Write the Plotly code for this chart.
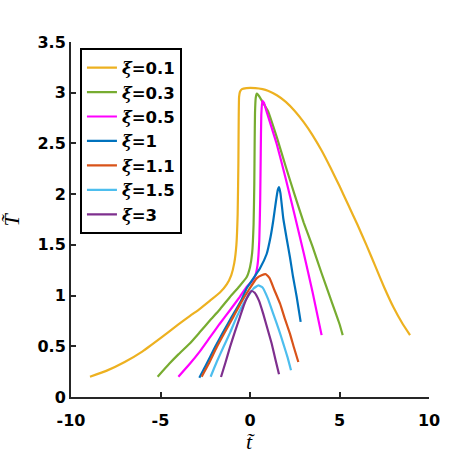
import plotly.graph_objects as go

# ---- data ----
xi_labels = ["0.1", "0.3", "0.5", "1", "1.1", "1.5", "3"]
colors = ["#EDB120", "#77AC30", "#FF00FF", "#0072BD", "#D95319", "#4DBEEE", "#7E2F8E"]

t_01 = [-8.94, -8.0, -7.0, -6.0, -5.0, -4.0, -3.35, -2.8, -2.23, -1.68, -1.3, -1.05, -0.88, -0.76,
        -0.69, -0.65, -0.63, -0.61, -0.56, -0.45, -0.2, 0.3, 0.7, 1.0, 1.5, 2.0, 2.5, 3.0,
        3.5, 4.0, 4.5, 5.0, 5.5, 6.0, 6.5, 7.0, 7.5, 8.0, 8.5, 8.94]
T_01 = [0.20, 0.26, 0.345, 0.45, 0.58, 0.715, 0.80, 0.87, 0.95, 1.03, 1.11, 1.20, 1.32, 1.50,
        1.80, 2.30, 2.75, 2.96, 3.01, 3.035, 3.045, 3.045, 3.035, 3.02, 2.975, 2.91, 2.82, 2.71,
        2.58, 2.43, 2.26, 2.08, 1.89, 1.70, 1.50, 1.29, 1.08, 0.89, 0.73, 0.61]

t_03 = [-5.16, -4.5, -4.0, -3.35, -2.8, -2.23, -1.7, -1.12, -0.6, -0.19, 0.0, 0.12, 0.2, 0.24,
        0.26, 0.28, 0.32, 0.37, 0.45, 0.6, 0.8, 1.0, 1.5, 2.0, 2.5, 3.0, 3.5, 4.0, 4.5, 5.0, 5.18]
T_03 = [0.20, 0.33, 0.42, 0.53, 0.64, 0.756, 0.86, 0.986, 1.09, 1.18, 1.28, 1.42, 1.70, 2.10,
        2.50, 2.80, 2.95, 2.99, 2.98, 2.94, 2.88, 2.82, 2.56, 2.27, 1.99, 1.72, 1.48, 1.22, 0.97, 0.72, 0.61]

t_05 = [-4.0, -3.35, -2.8, -2.23, -1.7, -1.12, -0.56, -0.19, 0.1, 0.28, 0.42, 0.52, 0.57, 0.6,
        0.63, 0.69, 0.78, 0.9, 1.2, 1.5, 2.0, 2.5, 3.0, 3.5, 4.0]
T_05 = [0.20, 0.33, 0.45, 0.59, 0.72, 0.855, 0.99, 1.085, 1.14, 1.19, 1.30, 1.55, 1.95, 2.40,
        2.78, 2.92, 2.90, 2.83, 2.66, 2.49, 2.15, 1.79, 1.42, 1.03, 0.61]

t_1 = [-2.83, -2.5, -1.96, -1.5, -1.02, -0.5, -0.19, 0.0, 0.3, 0.56, 0.93, 1.15, 1.30, 1.45,
       1.55, 1.62, 1.70, 1.86, 2.05, 2.23, 2.4, 2.61, 2.83]
T_1 = [0.19, 0.30, 0.49, 0.64, 0.79, 0.95, 1.07, 1.12, 1.20, 1.27, 1.41, 1.58, 1.74, 1.93,
       2.04, 2.07, 2.01, 1.76, 1.56, 1.38, 1.19, 0.986, 0.74]

t_11 = [-2.70, -2.3, -1.86, -1.4, -0.93, -0.5, -0.09, 0.37, 0.65, 0.89, 1.1, 1.35, 1.68, 1.95,
        2.23, 2.45, 2.70]
T_11 = [0.20, 0.33, 0.49, 0.64, 0.79, 0.93, 1.05, 1.17, 1.20, 1.21, 1.17, 1.06, 0.92, 0.77,
        0.625, 0.49, 0.345]

t_15 = [-2.20, -1.85, -1.49, -1.1, -0.74, -0.4, -0.09, 0.2, 0.47, 0.7, 1.0, 1.30, 1.6, 1.86,
        2.1, 2.29]
T_15 = [0.20, 0.35, 0.49, 0.64, 0.79, 0.91, 1.00, 1.07, 1.10, 1.08, 0.97, 0.82, 0.67, 0.527,
        0.39, 0.263]

t_3 = [-1.62, -1.37, -1.12, -0.85, -0.56, -0.35, -0.19, 0.0, 0.09, 0.25, 0.5, 0.74, 0.98, 1.21,
       1.42, 1.62]
T_3 = [0.197, 0.34, 0.49, 0.64, 0.79, 0.90, 0.97, 1.03, 1.045, 1.03, 0.95, 0.82, 0.67, 0.527,
       0.37, 0.224]

series_t = [t_01, t_03, t_05, t_1, t_11, t_15, t_3]
series_T = [T_01, T_03, T_05, T_1, T_11, T_15, T_3]

x_tick_vals = [-10, -5, 0, 5, 10]
x_tick_text = ["-10", "-5", "0", "5", "10"]
y_tick_vals = [0, 0.5, 1, 1.5, 2, 2.5, 3, 3.5]
y_tick_text = ["0", "0.5", "1", "1.5", "2", "2.5", "3", "3.5"]

AX = "#262626"
SANS = "DejaVu Sans"
SERIF = "DejaVu Serif"

fig = go.Figure()
for lab, col, tt, TT in zip(xi_labels, colors, series_t, series_T):
    fig.add_trace(go.Scatter(
        x=tt, y=TT, mode="lines",
        line=dict(color=col, width=2.2, shape="spline", smoothing=0.4),
        name=f'<span style="font-family:{SERIF}"><i>ξ</i></span>=' + lab,
    ))

fig.update_layout(
    width=474, height=462,
    margin=dict(l=71, r=45, t=42, b=65),
    paper_bgcolor="white", plot_bgcolor="white",
    font=dict(family=SANS, size=16, color="black"),
    showlegend=True,
    legend=dict(
        x=0.025, y=0.982, xanchor="left", yanchor="top",
        bgcolor="white", bordercolor="#000000", borderwidth=2,
        font=dict(family=SANS, size=16.5, color="black", weight="bold"),
        tracegroupgap=0, itemwidth=30,
    ),
    xaxis=dict(
        range=[-10, 10], tickvals=x_tick_vals, ticktext=x_tick_text,
        ticks="inside", ticklen=5, tickwidth=1.5, tickcolor=AX,
        showline=True, linecolor=AX, linewidth=2, mirror=False,
        showgrid=False, zeroline=False, ticklabelstandoff=8,
        tickfont=dict(family=SANS, size=16, color="black", weight="bold"),
    ),
    yaxis=dict(
        range=[0, 3.5], tickvals=y_tick_vals, ticktext=y_tick_text,
        ticks="inside", ticklen=5, tickwidth=1.5, tickcolor=AX,
        showline=True, linecolor=AX, linewidth=2, mirror=False,
        showgrid=False, zeroline=False,
        tickfont=dict(family=SANS, size=16, color="black", weight="bold"),
    ),
    annotations=[
        dict(text="<i>t\u0303</i>", xref="paper", yref="paper",
             x=0.5, y=-0.125, xanchor="center", yanchor="middle", showarrow=False,
             font=dict(family="Liberation Serif", size=22, color="black")),
        dict(text="<i>T\u0303</i>", xref="paper", yref="paper",
             x=-0.165, y=0.5, xanchor="center", yanchor="middle", showarrow=False,
             textangle=-90, font=dict(family="Liberation Serif", size=22, color="black")),
    ],
)

fig.write_html("out.html")
